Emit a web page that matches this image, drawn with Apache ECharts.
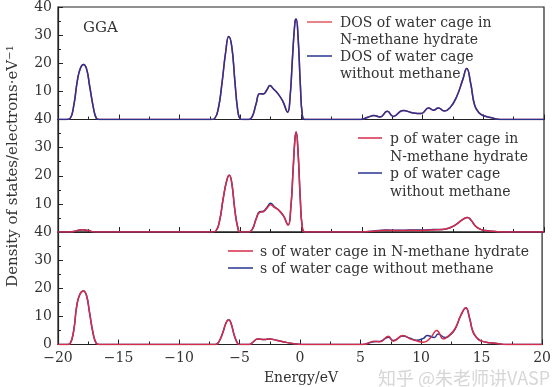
<!DOCTYPE html>
<html><head><meta charset="utf-8">
<script src="https://cdn.jsdelivr.net/npm/echarts@6/dist/echarts.min.js"></script>
<style>html,body{margin:0;padding:0;background:#fff}#c{width:554px;height:387px}</style>
</head><body><div id="c"></div>
<script>
// ---- data (energy eV, DOS) ----
const dosWith = [[-20,0],[-19.3,0],[-19.0,0.4],[-18.7,5],[-18.4,14],[-18.15,18.3],[-17.9,19.6],[-17.65,18],[-17.4,12],[-17.1,4.5],[-16.85,0.5],[-16.6,0],
 [-7.4,0],[-7.1,0.4],[-6.8,4],[-6.5,13],[-6.2,24],[-5.95,29.5],[-5.7,26],[-5.45,14],[-5.2,3],[-5.0,0.2],[-4.8,0],
 [-4.3,0],[-4.0,1.2],[-3.7,5.5],[-3.4,9.2],[-3.1,9.1],[-2.8,10.6],[-2.55,12.1],[-2.3,11],[-1.9,9.2],[-1.5,6.5],[-1.1,2.6],[-0.9,8],[-0.7,22],[-0.5,34.5],[-0.4,35.7],[-0.25,30],[-0.05,12],[0.1,2],[0.3,0],
 [4.9,0],[5.5,0.8],[6.0,1.4],[6.5,0.9],[7.1,2.9],[7.6,1.1],[8.4,3.2],[9.25,2.3],[9.9,2.1],[10.5,4.1],[10.9,3.3],[11.3,4.1],[11.8,3.0],[12.3,4.4],[12.8,8],[13.3,14],[13.64,18.1],[13.97,12.7],[14.3,5],[14.7,2.2],[15.0,1.4],[15.7,0.6],[16.4,0],[20,0]];
const dosWithout = [[-20,0],[-19.3,0],[-19.0,0.4],[-18.7,5],[-18.4,14],[-18.15,18.3],[-17.9,19.6],[-17.65,18],[-17.4,12],[-17.1,4.5],[-16.85,0.5],[-16.6,0],
 [-7.4,0],[-7.1,0.4],[-6.8,4],[-6.5,13],[-6.2,24],[-5.95,29.5],[-5.7,26],[-5.45,14],[-5.2,3],[-5.0,0.2],[-4.8,0],
 [-4.3,0],[-4.0,1.2],[-3.7,5.5],[-3.4,9.2],[-3.1,9.1],[-2.8,10.6],[-2.55,12.1],[-2.3,11],[-1.9,9.2],[-1.5,6.5],[-1.1,2.6],[-0.9,8],[-0.7,22],[-0.5,34.5],[-0.4,35.7],[-0.25,30],[-0.05,12],[0.1,2],[0.3,0],
 [4.9,0],[5.5,0.8],[6.0,1.4],[6.5,0.9],[7.1,2.9],[7.6,1.1],[8.4,3.2],[9.25,2.3],[9.9,2.1],[10.5,4.1],[10.9,3.3],[11.3,4.1],[11.8,3.0],[12.3,4.4],[12.8,8],[13.3,14],[13.64,18.1],[13.97,12.7],[14.3,5],[14.7,2.2],[15.0,1.4],[15.7,0.6],[16.4,0],[20,0]];
const pWith = [[-20,0],[-19.0,0],[-18.5,0.4],[-18.0,0.8],[-17.5,0.5],[-17.0,0],
 [-7.3,0],[-7.0,0.4],[-6.7,4],[-6.4,12],[-6.1,18.5],[-5.9,20.2],[-5.7,17.5],[-5.45,8],[-5.2,1.5],[-5.0,0],
 [-4.3,0],[-4.0,1],[-3.7,4.5],[-3.4,7],[-3.1,7.2],[-2.8,8.5],[-2.5,9.7],[-2.2,8.8],[-1.87,7.9],[-1.45,5.8],[-1.06,2.5],[-0.85,8],[-0.65,22],[-0.5,33],[-0.4,35.6],[-0.25,29],[-0.05,11],[0.1,2],[0.3,0],
 [5,0],[6,0.3],[7,0.6],[8,0.5],[9,0.6],[10,0.5],[10.6,0.7],[11.2,0.8],[11.8,1.0],[12.3,1.6],[12.8,2.8],[13.3,4.4],[13.7,5.2],[14.0,4.2],[14.3,2.4],[14.7,1.1],[15.2,0.5],[16,0.2],[16.8,0],[20,0]];
const pWithout = [[-20,0],[-19.0,0],[-18.5,0.4],[-18.0,0.8],[-17.5,0.5],[-17.0,0],
 [-7.3,0],[-7.0,0.4],[-6.7,4],[-6.4,12],[-6.1,18.5],[-5.9,20.2],[-5.7,17.5],[-5.45,8],[-5.2,1.5],[-5.0,0],
 [-4.3,0],[-4.0,1],[-3.7,4.6],[-3.4,7.2],[-3.1,7.4],[-2.8,8.8],[-2.5,10.2],[-2.2,9.0],[-1.87,7.9],[-1.45,5.8],[-1.06,2.5],[-0.85,8],[-0.65,22],[-0.5,33],[-0.4,35.6],[-0.25,29],[-0.05,11],[0.1,2],[0.3,0],
 [5,0],[6,0.4],[7,0.7],[8,0.6],[9,0.7],[10,0.7],[10.6,0.8],[11.2,0.9],[11.8,1.0],[12.3,1.6],[12.8,2.8],[13.3,4.4],[13.7,5.2],[14.0,4.2],[14.3,2.4],[14.7,1.1],[15.2,0.5],[16,0.2],[16.8,0],[20,0]];
const sWith = [[-20,0],[-19.2,0],[-19.0,0.3],[-18.7,5],[-18.46,13.5],[-18.2,17.8],[-17.9,19],[-17.65,17.5],[-17.4,11.5],[-17.1,4],[-16.85,0.5],[-16.6,0],
 [-7.0,0],[-6.7,1],[-6.4,4],[-6.1,7.8],[-5.9,8.8],[-5.7,7.5],[-5.45,3.5],[-5.2,0.7],[-5.0,0],
 [-4.2,0],[-3.9,0.8],[-3.5,2.0],[-2.96,1.8],[-2.55,2.0],[-1.87,1.4],[-1.2,0.8],[-0.5,0.3],[0.1,0],
 [5.2,0],[5.7,0.5],[6.1,1.2],[6.6,1.0],[7.3,2.9],[7.7,1.2],[8.5,3.2],[9.1,2.0],[9.6,1.3],[10.2,0.8],[10.8,2.5],[11.3,5.0],[11.85,2],[12.3,3.2],[12.8,5.6],[13.3,10.5],[13.7,13.1],[14.0,9.5],[14.3,4.4],[14.7,2.0],[15,1.2],[15.7,0.6],[16.4,0.3],[17,0],[20,0]];
const sWithout = [[-20,0],[-19.2,0],[-19.0,0.3],[-18.7,5],[-18.46,13.5],[-18.2,17.8],[-17.9,19],[-17.65,17.5],[-17.4,11.5],[-17.1,4],[-16.85,0.5],[-16.6,0],
 [-7.0,0],[-6.7,1],[-6.4,4],[-6.1,7.8],[-5.9,8.8],[-5.7,7.5],[-5.45,3.5],[-5.2,0.7],[-5.0,0],
 [-4.2,0],[-3.9,0.8],[-3.5,2.0],[-2.96,1.8],[-2.55,2.0],[-1.87,1.4],[-1.2,0.8],[-0.5,0.3],[0.1,0],
 [5.2,0],[5.7,0.6],[6.1,1.0],[6.6,1.1],[7.3,2.6],[7.7,1.4],[8.5,3.0],[9.1,2.2],[9.6,1.5],[10.2,2.2],[10.5,3.2],[11.1,2.5],[11.4,3.7],[12.0,2.5],[12.3,3.0],[12.8,5.4],[13.3,10.5],[13.7,13.0],[14.0,9.5],[14.3,4.4],[14.7,2.0],[15,1.2],[15.7,0.6],[16.4,0.3],[17,0],[20,0]];

const legendTop = ['DOS of water cage in','N-methane hydrate','DOS of water cage','without methane'];
const legendMid = ['p of water cage in','N-methane hydrate','p of water cage','without methane'];
const legendBot = ['s of water cage in N-methane hydrate','s of water cage without methane'];
const panelLabel = 'GGA';
const xTitle = 'Energy/eV';

// ---- styles ----
const RED = '#d62c4a', BLUE = '#27358f', INK = '#333';
const FONT = 'DejaVu Serif';
const L = 58, R = 10, tops = [7, 119.5, 232], H = 112.5;

const chart = echarts.init(document.getElementById('c'), null, {renderer:'canvas'});
const grids = tops.map(t => ({left:L, right:R, top:t, height:H, show:true, borderColor:'#222', borderWidth:1.2, backgroundColor:'transparent'}));
const xAxes = [0,1,2].map(i => ({
  type:'value', gridIndex:i, min:-20, max:20, interval:5,
  axisLine:{show:true, onZero:false, lineStyle:{color:'#222', width:1.2}},
  axisTick:{show:true, inside:true, length:5, lineStyle:{color:'#222'}},
  minorTick:{show:true, splitNumber:2, length:3, lineStyle:{color:'#222'}},
  splitLine:{show:false},
  axisLabel:{show:i===2, color:INK, fontFamily:FONT, fontSize:14, margin:7,
    formatter:v => v<0 ? '\u2212'+Math.abs(v) : String(v)}
}));
const yAxes = [0,1,2].map(i => ({
  type:'value', gridIndex:i, min:0, max:40, interval:10,
  axisLine:{show:true, onZero:false, lineStyle:{color:'#222', width:1.2}},
  axisTick:{show:true, inside:true, length:5, lineStyle:{color:'#222'}},
  minorTick:{show:true, splitNumber:2, length:3, lineStyle:{color:'#222'}},
  splitLine:{show:false},
  axisLabel:{color:INK, fontFamily:FONT, fontSize:14, margin:6,
    formatter:v => (v===0 && i<2) ? '' : String(v)}
}));
function line(data, color, idx, z){
  return {type:'line', data, xAxisIndex:idx, yAxisIndex:idx, showSymbol:false, symbol:'none',
    smooth:0.5, z, lineStyle:{color, width:1.5}, itemStyle:{color}};
}
const series = [
  line(dosWith, RED, 0, 2), line(dosWithout, BLUE, 0, 3),
  line(pWithout, BLUE, 1, 2), line(pWith, RED, 1, 3),
  line(sWithout, BLUE, 2, 2), line(sWith, RED, 2, 3)
];

const graphic = [];
function legend(rows, colors, lineRows, x0, x1, tx, ys){
  rows.forEach((t,k) => {
    graphic.push({type:'text', x:tx, y:ys[k], style:{text:t, fill:INK, font:'14px "'+FONT+'"', textVerticalAlign:'middle'}});
  });
  lineRows.forEach((r,k) => {
    graphic.push({type:'line', shape:{x1:x0, y1:ys[r]-1, x2:x1, y2:ys[r]-1}, style:{stroke:colors[k], lineWidth:1.5}});
  });
}
legend(legendTop, ['#e05a60', BLUE], [0,2], 307, 332, 340, [23,40,57,74]);
legend(legendMid, [RED, BLUE], [0,2], 358, 382, 390, [139,157,174,192]);
legend(legendBot, [RED, BLUE], [0,1], 228, 253, 260, [252,269]);
graphic.push({type:'text', x:83, y:28, style:{text:panelLabel, fill:INK, font:'15px "'+FONT+'"', textVerticalAlign:'middle'}});
graphic.push({type:'text', x:301, y:378, style:{text:xTitle, fill:INK, font:'14px "'+FONT+'"', textAlign:'center', textVerticalAlign:'middle'}});
graphic.push({type:'text', x:5, y:166, rotation:Math.PI/2,
  style:{text:'{a|Density of states/electrons\u00b7eV}{s|\u22121}', textAlign:'center', textVerticalAlign:'top',
    rich:{a:{fill:INK, font:'15px "'+FONT+'"'}, s:{fill:INK, font:'10px "'+FONT+'"', verticalAlign:'top', padding:[0,0,6,0]}}}});
graphic.push({type:'text', x:378, y:378, z:10, style:{text:'知乎 @朱老师讲VASP', fill:'rgba(200,200,200,0.75)', font:'18px "Noto Sans CJK SC"', textVerticalAlign:'middle'}});

chart.setOption({animation:false, grid:grids, xAxis:xAxes, yAxis:yAxes, series, graphic});
</script></body></html>
